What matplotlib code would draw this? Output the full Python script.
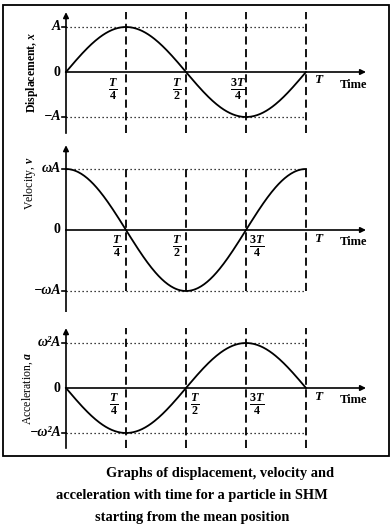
import numpy as np
import matplotlib
matplotlib.use("Agg")
import matplotlib.pyplot as plt
from matplotlib.patches import Rectangle

plt.rcParams["font.family"] = ["Liberation Serif", "DejaVu Serif"]
plt.rcParams["mathtext.fontset"] = "custom"
plt.rcParams["mathtext.rm"] = "Liberation Serif:bold"
plt.rcParams["mathtext.bf"] = "Liberation Serif:bold"
plt.rcParams["mathtext.it"] = "Liberation Serif:italic:bold"

# ------------------------------------------------------------
# Data: values at each quarter period (in units of T and amplitude)
# ------------------------------------------------------------
quarter_times = [0, 0.25, 0.5, 0.75, 1.0]
displacement = [0, 1, 0, -1, 0]
velocity = [1, 0, -1, 0, 1]
acceleration = [0, -1, 0, 1, 0]

tick_fracs = [r"$\frac{T}{4}$", r"$\frac{T}{2}$", r"$\frac{3T}{4}$"]
ylabels = ["Displacement, $x$", "Velocity, $v$", "Acceleration, $a$"]
level_labels = [("A", "\u2212A"), ("\u03c9A", "\u2212\u03c9A"),
                ("\u03c9\u00b2A", "\u2212\u03c9\u00b2A")]

caption = ["Graphs of displacement, velocity and",
           "acceleration with time for a particle in SHM",
           "starting from the mean position"]

W, H = 391, 526
X0, XT = 66, 306            # pixel x of t=0 and t=T
PXT = XT - X0


def quarter_curve(times, vals, n=60):
    # smooth quarter-wave shape between consecutive key points
    xs, ys = [], []
    for i in range(len(times) - 1):
        s = np.linspace(0, 1, n)
        t = times[i] + (times[i + 1] - times[i]) * s
        if vals[i] == 0:
            y = vals[i + 1] * np.sin(np.pi / 2 * s)
        else:
            y = vals[i] * np.cos(np.pi / 2 * s)
        xs.append(t)
        ys.append(y)
    return np.concatenate(xs), np.concatenate(ys)


def make_axes(fig, zero_px, unit_px, top_px, bot_px):
    ax = fig.add_axes([0, 1 - bot_px / H, 1, (bot_px - top_px) / H])
    ax.set_xlim(-X0 / PXT, (W - X0) / PXT)
    ax.set_ylim((zero_px - bot_px) / unit_px, (zero_px - top_px) / unit_px)
    ax.axis("off")
    return ax


fig = plt.figure(figsize=(W / 100, H / 100), dpi=100)

panels = [
    dict(z=72, u=45, top=5, bot=138, ay=(-1.36, 1.33), vl=(-1.36, 1.33),
         data=displacement, frac_x=[0.196, 0.4625, 0.717], frac_y=-0.38,
         t_y=-0.18, time_y=-0.29, lab_x=-0.142, lab_y=0.0, lab_bold=True),
    dict(z=230, u=61, top=138, bot=312, ay=(-1.36, 1.39), vl=(-1.0, 1.0),
         data=velocity, frac_x=[0.2125, 0.4625, 0.796], frac_y=-0.27,
         t_y=-0.15, time_y=-0.2, lab_x=-0.15, lab_y=0.77, lab_bold=False),
    dict(z=388, u=45, top=312, bot=456, ay=(-1.33, 1.33), vl=(-1.33, 1.33),
         data=acceleration, frac_x=[0.2, 0.5375, 0.796], frac_y=-0.36,
         t_y=-0.2, time_y=-0.27, lab_x=-0.158, lab_y=0.0, lab_bold=False),
]

for i, p in enumerate(panels):
    ax = make_axes(fig, p["z"], p["u"], p["top"], p["bot"])

    # axes with arrows
    ax.plot([0, 0], [p["ay"][0], 0], color="black", lw=1.2)
    ax.annotate("", xy=(0, p["ay"][1]), xytext=(0, 0),
                arrowprops=dict(arrowstyle="-|>", color="black", lw=1.2,
                                mutation_scale=8, shrinkA=0, shrinkB=0))
    ax.annotate("", xy=(1.25, 0), xytext=(0, 0),
                arrowprops=dict(arrowstyle="-|>", color="black", lw=1.2,
                                mutation_scale=8, shrinkA=0, shrinkB=0))

    # dashed verticals at quarter periods
    for t in quarter_times[1:]:
        ax.plot([t, t], p["vl"], color="black", lw=1.3, ls=(0, (4.5, 2.5)))

    # dotted amplitude levels
    for lv in (1, -1):
        ax.plot([0, 1], [lv, lv], color="black", lw=0.9, ls=(0, (1, 2.2)))
        ax.plot([-0.015, 0], [lv, lv], color="black", lw=1.2)

    # curve
    xs, ys = quarter_curve(quarter_times, p["data"])
    ax.plot(xs, ys, color="black", lw=1.3)

    # y level labels
    hi, lo = level_labels[i]
    lab_kw = dict(ha="right", va="center", fontsize=10, fontweight="bold",
                  fontstyle="italic")
    ax.text(-0.02, 1, hi, **lab_kw)
    ax.text(-0.02, -1, lo, **lab_kw)
    ax.text(-0.025, 0, "0", ha="right", va="center", fontsize=10,
            fontweight="bold")

    # time fractions
    for fx, lbl in zip(p["frac_x"], tick_fracs):
        ax.text(fx, p["frac_y"], lbl, ha="center", va="center", fontsize=12.5)
    ax.text(1.035, p["t_y"], "$T$", ha="left", va="center", fontsize=9.5)
    ax.text(1.142, p["time_y"], "Time", ha="left", va="center",
            fontsize=9, fontweight="bold")

    ax.text(p["lab_x"], p["lab_y"], ylabels[i], rotation=90, ha="center",
            va="center", fontsize=8.5,
            fontweight="bold" if p["lab_bold"] else "normal")

# outer frame
fig.patches.append(Rectangle((3 / W, 1 - 456 / H), 386 / W, 451 / H,
                             transform=fig.transFigure, fill=False,
                             edgecolor="black", lw=1.3))

# caption
for cx, cy, line in zip([220, 192, 192], [473, 495, 517], caption):
    fig.text(cx / W, 1 - cy / H, line, ha="center", va="center",
             fontsize=10.4, fontweight="bold")

fig.savefig("out.png", dpi=100)
